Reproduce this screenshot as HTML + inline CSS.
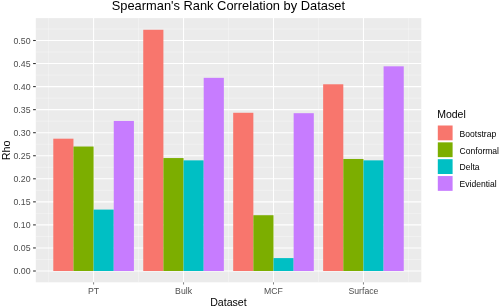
<!DOCTYPE html>
<html><head><meta charset="utf-8"><title>Spearman's Rank Correlation by Dataset</title>
<style>
html,body{margin:0;padding:0;background:#fff;}
svg{display:block;}
text{font-family:"Liberation Sans",sans-serif;}
.ax{font-size:8.8px;fill:#4D4D4D;}
.leg{font-size:8.55px;fill:#000;}
.lab{font-size:10.85px;fill:#000;}
.labx{font-size:10.6px;fill:#000;}
.axx{font-size:8.7px;fill:#4D4D4D;}
.lt{font-size:10.5px;fill:#000;}
.title{font-size:12.87px;fill:#000;}
</style></head><body>
<svg width="500" height="308" viewBox="0 0 500 308">
<rect width="500" height="308" fill="#fff"/>
<rect x="35.8" y="18.1" width="385.50" height="264.20" fill="#EBEBEB"/>
<line x1="35.8" x2="421.3" y1="259.48" y2="259.48" stroke="#fff" stroke-width="0.53" stroke-opacity="0.6"/>
<line x1="35.8" x2="421.3" y1="236.43" y2="236.43" stroke="#fff" stroke-width="0.53" stroke-opacity="0.6"/>
<line x1="35.8" x2="421.3" y1="213.38" y2="213.38" stroke="#fff" stroke-width="0.53" stroke-opacity="0.6"/>
<line x1="35.8" x2="421.3" y1="190.32" y2="190.32" stroke="#fff" stroke-width="0.53" stroke-opacity="0.6"/>
<line x1="35.8" x2="421.3" y1="167.27" y2="167.27" stroke="#fff" stroke-width="0.53" stroke-opacity="0.6"/>
<line x1="35.8" x2="421.3" y1="144.22" y2="144.22" stroke="#fff" stroke-width="0.53" stroke-opacity="0.6"/>
<line x1="35.8" x2="421.3" y1="121.17" y2="121.17" stroke="#fff" stroke-width="0.53" stroke-opacity="0.6"/>
<line x1="35.8" x2="421.3" y1="98.12" y2="98.12" stroke="#fff" stroke-width="0.53" stroke-opacity="0.6"/>
<line x1="35.8" x2="421.3" y1="75.07" y2="75.07" stroke="#fff" stroke-width="0.53" stroke-opacity="0.6"/>
<line x1="35.8" x2="421.3" y1="52.02" y2="52.02" stroke="#fff" stroke-width="0.53" stroke-opacity="0.6"/>
<line x1="35.8" x2="421.3" y1="28.97" y2="28.97" stroke="#fff" stroke-width="0.53" stroke-opacity="0.6"/>
<line y1="18.1" y2="282.3" x1="48.62" x2="48.62" stroke="#fff" stroke-width="0.53" stroke-opacity="0.6"/>
<line y1="18.1" y2="282.3" x1="138.57" x2="138.57" stroke="#fff" stroke-width="0.53" stroke-opacity="0.6"/>
<line y1="18.1" y2="282.3" x1="228.53" x2="228.53" stroke="#fff" stroke-width="0.53" stroke-opacity="0.6"/>
<line y1="18.1" y2="282.3" x1="318.48" x2="318.48" stroke="#fff" stroke-width="0.53" stroke-opacity="0.6"/>
<line y1="18.1" y2="282.3" x1="408.42" x2="408.42" stroke="#fff" stroke-width="0.53" stroke-opacity="0.6"/>
<line x1="35.8" x2="421.3" y1="271.00" y2="271.00" stroke="#fff" stroke-width="1.07"/>
<line x1="33.099999999999994" x2="35.8" y1="271.00" y2="271.00" stroke="#333" stroke-width="1.07"/>
<text x="30.60" y="274.10" text-anchor="end" class="ax">0.00</text>
<line x1="35.8" x2="421.3" y1="247.95" y2="247.95" stroke="#fff" stroke-width="1.07"/>
<line x1="33.099999999999994" x2="35.8" y1="247.95" y2="247.95" stroke="#333" stroke-width="1.07"/>
<text x="30.60" y="251.05" text-anchor="end" class="ax">0.05</text>
<line x1="35.8" x2="421.3" y1="224.90" y2="224.90" stroke="#fff" stroke-width="1.07"/>
<line x1="33.099999999999994" x2="35.8" y1="224.90" y2="224.90" stroke="#333" stroke-width="1.07"/>
<text x="30.60" y="228.00" text-anchor="end" class="ax">0.10</text>
<line x1="35.8" x2="421.3" y1="201.85" y2="201.85" stroke="#fff" stroke-width="1.07"/>
<line x1="33.099999999999994" x2="35.8" y1="201.85" y2="201.85" stroke="#333" stroke-width="1.07"/>
<text x="30.60" y="204.95" text-anchor="end" class="ax">0.15</text>
<line x1="35.8" x2="421.3" y1="178.80" y2="178.80" stroke="#fff" stroke-width="1.07"/>
<line x1="33.099999999999994" x2="35.8" y1="178.80" y2="178.80" stroke="#333" stroke-width="1.07"/>
<text x="30.60" y="181.90" text-anchor="end" class="ax">0.20</text>
<line x1="35.8" x2="421.3" y1="155.75" y2="155.75" stroke="#fff" stroke-width="1.07"/>
<line x1="33.099999999999994" x2="35.8" y1="155.75" y2="155.75" stroke="#333" stroke-width="1.07"/>
<text x="30.60" y="158.85" text-anchor="end" class="ax">0.25</text>
<line x1="35.8" x2="421.3" y1="132.70" y2="132.70" stroke="#fff" stroke-width="1.07"/>
<line x1="33.099999999999994" x2="35.8" y1="132.70" y2="132.70" stroke="#333" stroke-width="1.07"/>
<text x="30.60" y="135.80" text-anchor="end" class="ax">0.30</text>
<line x1="35.8" x2="421.3" y1="109.65" y2="109.65" stroke="#fff" stroke-width="1.07"/>
<line x1="33.099999999999994" x2="35.8" y1="109.65" y2="109.65" stroke="#333" stroke-width="1.07"/>
<text x="30.60" y="112.75" text-anchor="end" class="ax">0.35</text>
<line x1="35.8" x2="421.3" y1="86.60" y2="86.60" stroke="#fff" stroke-width="1.07"/>
<line x1="33.099999999999994" x2="35.8" y1="86.60" y2="86.60" stroke="#333" stroke-width="1.07"/>
<text x="30.60" y="89.70" text-anchor="end" class="ax">0.40</text>
<line x1="35.8" x2="421.3" y1="63.55" y2="63.55" stroke="#fff" stroke-width="1.07"/>
<line x1="33.099999999999994" x2="35.8" y1="63.55" y2="63.55" stroke="#333" stroke-width="1.07"/>
<text x="30.60" y="66.65" text-anchor="end" class="ax">0.45</text>
<line x1="35.8" x2="421.3" y1="40.50" y2="40.50" stroke="#fff" stroke-width="1.07"/>
<line x1="33.099999999999994" x2="35.8" y1="40.50" y2="40.50" stroke="#333" stroke-width="1.07"/>
<text x="30.60" y="43.60" text-anchor="end" class="ax">0.50</text>
<line y1="18.1" y2="282.3" x1="93.60" x2="93.60" stroke="#fff" stroke-width="1.07"/>
<line y1="282.3" y2="284.5" x1="93.60" x2="93.60" stroke="#333" stroke-width="1" stroke-opacity="0.6"/>
<text x="93.60" y="293.9" text-anchor="middle" class="axx">PT</text>
<line y1="18.1" y2="282.3" x1="183.55" x2="183.55" stroke="#fff" stroke-width="1.07"/>
<line y1="282.3" y2="284.5" x1="183.55" x2="183.55" stroke="#333" stroke-width="1" stroke-opacity="0.6"/>
<text x="183.55" y="293.9" text-anchor="middle" class="axx">Bulk</text>
<line y1="18.1" y2="282.3" x1="273.50" x2="273.50" stroke="#fff" stroke-width="1.07"/>
<line y1="282.3" y2="284.5" x1="273.50" x2="273.50" stroke="#333" stroke-width="1" stroke-opacity="0.6"/>
<text x="273.50" y="293.9" text-anchor="middle" class="axx">MCF</text>
<line y1="18.1" y2="282.3" x1="363.45" x2="363.45" stroke="#fff" stroke-width="1.07"/>
<line y1="282.3" y2="284.5" x1="363.45" x2="363.45" stroke="#333" stroke-width="1" stroke-opacity="0.6"/>
<text x="363.45" y="293.9" text-anchor="middle" class="axx">Surface</text>
<rect x="53.30" y="138.69" width="20.15" height="132.31" fill="#F8766D"/>
<rect x="73.45" y="146.53" width="20.15" height="124.47" fill="#7CAE00"/>
<rect x="93.60" y="209.59" width="20.15" height="61.41" fill="#00BFC4"/>
<rect x="113.75" y="120.94" width="20.15" height="150.06" fill="#C77CFF"/>
<rect x="143.25" y="29.76" width="20.15" height="241.24" fill="#F8766D"/>
<rect x="163.40" y="158.06" width="20.15" height="112.94" fill="#7CAE00"/>
<rect x="183.55" y="160.36" width="20.15" height="110.64" fill="#00BFC4"/>
<rect x="203.70" y="77.84" width="20.15" height="193.16" fill="#C77CFF"/>
<rect x="233.20" y="112.78" width="20.15" height="158.22" fill="#F8766D"/>
<rect x="253.35" y="215.22" width="20.15" height="55.78" fill="#7CAE00"/>
<rect x="273.50" y="258.09" width="20.15" height="12.91" fill="#00BFC4"/>
<rect x="293.65" y="113.20" width="20.15" height="157.80" fill="#C77CFF"/>
<rect x="323.15" y="84.29" width="20.15" height="186.71" fill="#F8766D"/>
<rect x="343.30" y="158.98" width="20.15" height="112.02" fill="#7CAE00"/>
<rect x="363.45" y="160.36" width="20.15" height="110.64" fill="#00BFC4"/>
<rect x="383.60" y="66.32" width="20.15" height="204.68" fill="#C77CFF"/>
<text x="228.4" y="10.2" text-anchor="middle" class="title">Spearman's Rank Correlation by Dataset</text>
<text x="228.4" y="306" text-anchor="middle" class="labx">Dataset</text>
<text transform="translate(9.5,150.3) rotate(-90)" text-anchor="middle" class="lab">Rho</text>
<text x="437.2" y="118.3" class="lt">Model</text>
<rect x="437.8" y="125.50" width="14.8" height="14.8" fill="#F8766D"/>
<text x="459.6" y="137.30" class="leg">Bootstrap</text>
<rect x="437.8" y="142.35" width="14.8" height="14.8" fill="#7CAE00"/>
<text x="459.6" y="153.80" class="leg">Conformal</text>
<rect x="437.8" y="159.20" width="14.8" height="14.8" fill="#00BFC4"/>
<text x="459.6" y="170.30" class="leg">Delta</text>
<rect x="437.8" y="176.05" width="14.8" height="14.8" fill="#C77CFF"/>
<text x="459.6" y="186.80" class="leg">Evidential</text>
</svg>
</body></html>
